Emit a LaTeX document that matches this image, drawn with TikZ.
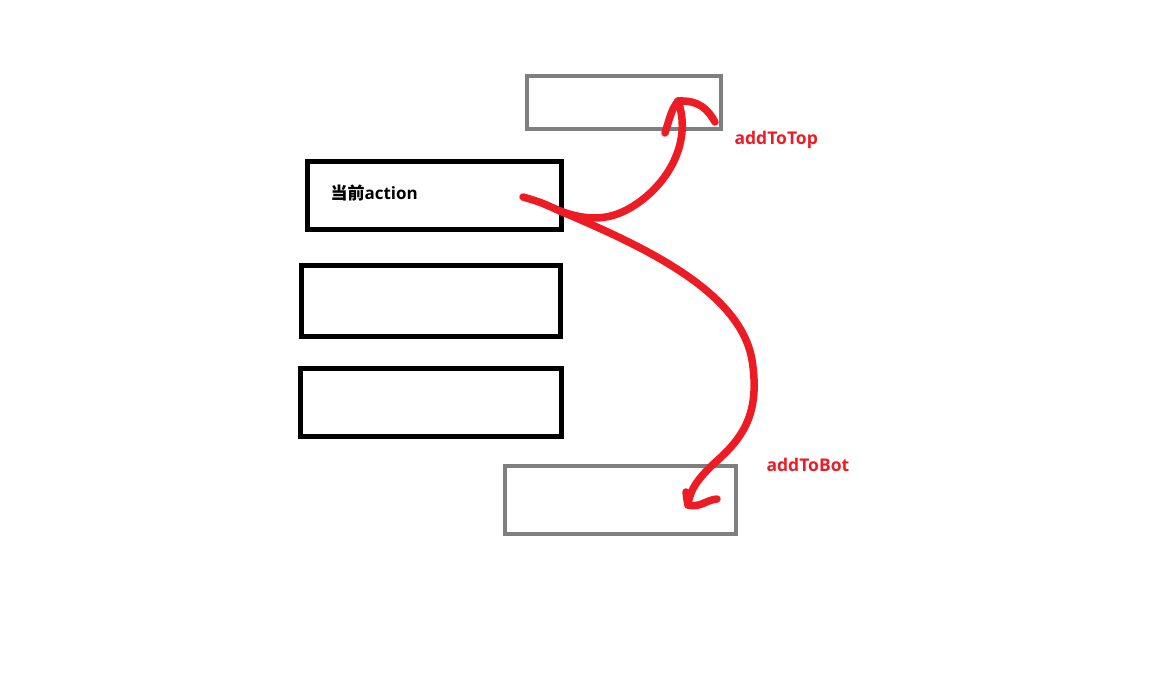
\documentclass[tikz,border=0pt]{standalone}
\usepackage{fontspec}
\setmainfont{Open Sans}
\newfontfamily\cjk{Noto Sans CJK SC}
\definecolor{strokered}{RGB}{237,28,36}
\definecolor{boxgray}{RGB}{127,127,127}
\tikzset{
	stackbox/.style={draw=black, line width=5pt, minimum width=#1, inner sep=0pt},
	spare/.style={draw=boxgray, line width=4.5pt, inner sep=0pt},
	scribble/.style={draw=strokered, line width=7.5pt, line cap=round, line join=round},
	redlabel/.style={text=strokered, font=\fontsize{17.5}{20}\selectfont\bfseries, anchor=west}
}
\begin{document}
\begin{tikzpicture}[x=1pt, y=-1pt]
	\useasboundingbox[fill=white] (0,0) rectangle (1149,699);
	%action stack
	\node[stackbox=254pt, minimum height=68pt] (cur) at (434.5,195.5) {};
	\node[stackbox=259pt, minimum height=71pt] (second) at (431,301) {};
	\node[stackbox=261pt, minimum height=68pt] (third) at (431,402.5) {};
	\node[anchor=west, font=\fontsize{17}{20}\selectfont\bfseries] (curtext) at (327,193) {{\cjk\bfseries 当前}action};
	
	%target places
	\node[spare, minimum width=194pt, minimum height=53pt] (top) at (624,102.5) {};
	\node[spare, minimum width=231pt, minimum height=68pt] (bot) at (620.5,500) {};
	\node[redlabel] (toplabel) at (731,140) {addToTop};
	\node[redlabel] (botlabel) at (763,465) {addToBot};
	
	\coordinate (start) at (523,197);
	\coordinate (split) at (560,211);
	\coordinate (toptip) at (678,101);
	\coordinate (bottip) at (688,505);
	
	%move to top
	\draw[scribble] (start) .. controls (540,202) .. (split)
		.. controls (590,222) and (612,220) .. (635,205)
		.. controls (670,182) and (692,140) .. (toptip);
	\draw[scribble] (665,133) .. controls (672,110) .. (toptip)
		.. controls (700,100) and (708,110) .. (715,122);
	
	%move to bottom
	\draw[scribble] (split) .. controls (640,245) and (740,290) .. (752,360)
		.. controls (760,410) and (745,435) .. (720,458)
		.. controls (700,476) and (690,488) .. (bottip);
	\draw[scribble] (686,492) .. controls (687,500) .. (bottip)
		.. controls (700,508) and (706,500) .. (717,499);
\end{tikzpicture}
\end{document}
